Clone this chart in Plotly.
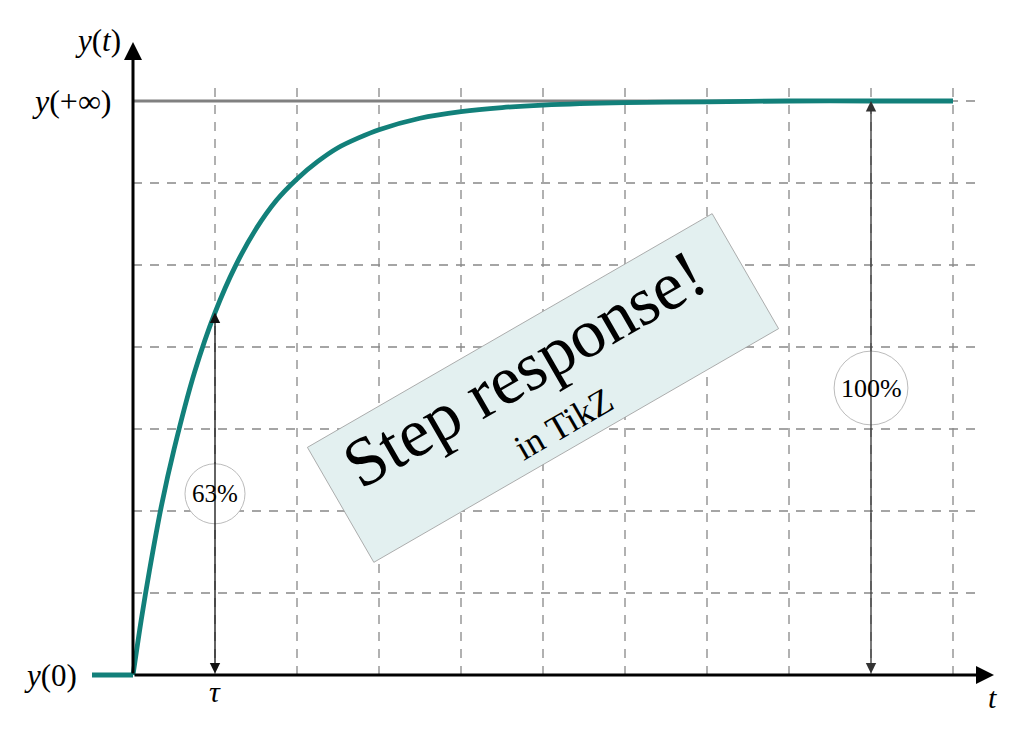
import math
import plotly.graph_objects as go

# values (t in units of tau, y in grid units, y(+inf) = 7)
t_before = [-0.5, 0.0]
y_before = [0.0, 0.0]
t_resp = [0.0, 0.1, 0.2, 0.35, 0.5, 0.75, 1.0, 1.25, 1.5, 1.75, 2.0, 2.25, 2.5, 2.75, 3.0, 3.5, 4.0, 4.5, 5.0, 6.0, 7.0, 8.0, 9.0, 10.0]
y_resp = [0.0, 0.67, 1.27, 2.08, 2.75, 3.69, 4.42, 4.99, 5.44, 5.79, 6.05, 6.26, 6.43, 6.55, 6.65, 6.79, 6.87, 6.92, 6.95, 6.98, 6.99, 7.0, 7.0, 7.0]
y_final = 7.0
tau = 1.0
y_tau = 4.42
grid_x = [1, 2, 3, 4, 5, 6, 7, 8, 9, 10]
grid_y = [1, 2, 3, 4, 5, 6, 7]
t_100 = 9.0

W, H = 1024, 730
PX = 82.0          # pixels per grid unit
X0_PX, Y0_PX = 133, 675
xr = [-X0_PX / PX, (W - X0_PX) / PX]
yr = [(Y0_PX - H) / PX, Y0_PX / PX]

TEAL = "#12807a"
GRAY = "#808080"
SERIF = "Liberation Serif, DejaVu Serif, serif"

fig = go.Figure()

shapes = []
# dashed grid
for gx in grid_x:
    shapes.append(dict(type="line", x0=gx, x1=gx, y0=0, y1=7.25, layer="below",
                       line=dict(color="#888888", width=1.3, dash="9px,8px")))
for gy in grid_y:
    shapes.append(dict(type="line", x0=0, x1=10.27, y0=gy, y1=gy, layer="below",
                       line=dict(color="#888888", width=1.3, dash="9px,8px")))
# final value line
shapes.append(dict(type="line", x0=0, x1=10, y0=y_final, y1=y_final, layer="below",
                   line=dict(color=GRAY, width=3)))

# rotated label box (30 degrees)
cx, cy, bw, bh, ang = 5.0, 3.5, 5.7, 1.62, math.radians(30)
ux, uy = math.cos(ang), math.sin(ang)
vx, vy = -math.sin(ang), math.cos(ang)
pts = []
for a, b in [(-1, -1), (1, -1), (1, 1), (-1, 1)]:
    pts.append((cx + a * bw / 2 * ux + b * bh / 2 * vx, cy + a * bw / 2 * uy + b * bh / 2 * vy))
path = "M " + " L ".join(f"{px:.3f},{py:.3f}" for px, py in pts) + " Z"
shapes.append(dict(type="path", path=path, fillcolor="#e3f0f0",
                   line=dict(color="#999999", width=0.8)))

# circles for the percentage labels
shapes.append(dict(type="circle", x0=tau - 0.366, x1=tau + 0.366,
                   y0=y_tau / 2 - 0.366, y1=y_tau / 2 + 0.366,
                   fillcolor="white", line=dict(color="#aaaaaa", width=0.8)))
shapes.append(dict(type="circle", x0=t_100 - 0.45, x1=t_100 + 0.45,
                   y0=y_final / 2 - 0.45, y1=y_final / 2 + 0.45,
                   fillcolor="white", line=dict(color="#aaaaaa", width=0.8)))

fig.add_trace(go.Scatter(x=t_before, y=y_before, mode="lines",
                         line=dict(color=TEAL, width=4.8), hoverinfo="skip"))
fig.add_trace(go.Scatter(x=t_resp, y=y_resp, mode="lines",
                         line=dict(color=TEAL, width=4.8, shape="spline", smoothing=0.8),
                         hoverinfo="skip"))

ann = []
# axes with arrows
ann.append(dict(x=10.5, y=0, ax=0, ay=0, xref="x", yref="y", axref="x", ayref="y",
                showarrow=True, arrowhead=2, arrowsize=1.2, arrowwidth=3, arrowcolor="black", text=""))
ann.append(dict(x=0, y=7.72, ax=0, ay=0, xref="x", yref="y", axref="x", ayref="y",
                showarrow=True, arrowhead=2, arrowsize=1.2, arrowwidth=3, arrowcolor="black", text=""))
# measurement arrows
ann.append(dict(x=tau, y=y_tau, ax=tau, ay=0, xref="x", yref="y", axref="x", ayref="y",
                showarrow=True, arrowhead=2, startarrowhead=2, arrowside="end+start",
                arrowsize=1.6, startarrowsize=1.6, arrowwidth=1.3, arrowcolor="#111111", text=""))
ann.append(dict(x=t_100, y=y_final, ax=t_100, ay=0, xref="x", yref="y", axref="x", ayref="y",
                showarrow=True, arrowhead=2, startarrowhead=2, arrowside="end+start",
                arrowsize=1.6, startarrowsize=1.6, arrowwidth=1.3, arrowcolor="#333333", text=""))

def label(x, y, text, size, **kw):
    d = dict(x=x, y=y, xref="x", yref="y", text=text, showarrow=False,
             font=dict(family=SERIF, size=size, color="black"))
    d.update(kw)
    ann.append(d)

label(tau, y_tau / 2, "63%", 25)
label(t_100, y_final / 2, "100%", 26)
label(-0.43, 7.74, "<i>y</i>(<i>t</i>)", 31)
label(-0.25, y_final, "<i>y</i>(+∞)", 32, xanchor="right")
label(-0.66, 0, "<i>y</i>(0)", 31, xanchor="right")
label(tau, -0.2, "<i>τ</i>", 30)
label(10.48, -0.27, "<i>t</i>", 30)

# rotated box text
m_off, m_u = 0.32, -0.08
s_off, s_u = -0.5, 0.0
label(cx + m_off * vx + m_u * ux, cy + m_off * vy + m_u * uy, "Step response!", 69, textangle=-30)
label(cx + s_off * vx + s_u * ux, cy + s_off * vy + s_u * uy, "in TikZ", 36, textangle=-30)

fig.update_layout(
    width=W, height=H, margin=dict(l=0, r=0, t=0, b=0),
    plot_bgcolor="white", paper_bgcolor="white", showlegend=False,
    shapes=shapes, annotations=ann,
    xaxis=dict(range=xr, visible=False, fixedrange=True),
    yaxis=dict(range=yr, visible=False, fixedrange=True),
)

fig.write_html("out.html", config={"displayModeBar": False},
               post_script="document.body.style.margin='0';")
